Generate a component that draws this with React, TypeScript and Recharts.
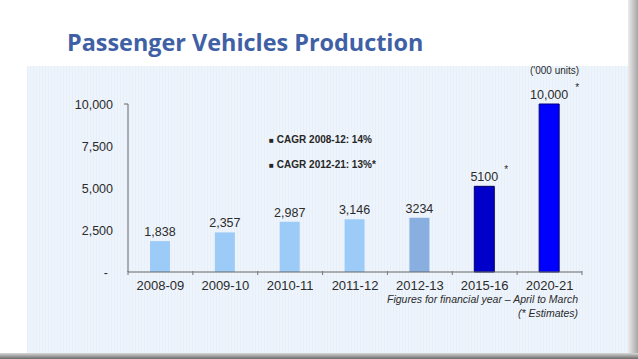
import { BarChart, Bar, XAxis, YAxis, Cell, LabelList } from 'recharts';

const years = ['2008-09', '2009-10', '2010-11', '2011-12', '2012-13', '2015-16', '2020-21'];
const production = [1838, 2357, 2987, 3146, 3234, 5100, 10000];
const valueLabels = ['1,838', '2,357', '2,987', '3,146', '3234', '5100', '10,000'];
const isEstimate = [false, false, false, false, false, true, true];
const yTicks = [0, 2500, 5000, 7500, 10000];
const cagrNotes = ['CAGR 2008-12: 14%', 'CAGR 2012-21: 13%*'];

const BAR_FILLS = ['#9ccbf7', '#9ccbf7', '#9ccbf7', '#9ccbf7', '#88afe0', '#0000c8', '#0000ff'];
const BAR_STROKES = ['none', 'none', 'none', 'none', 'none', '#000060', '#00007a'];

const FONT = '"Liberation Sans", Arial, sans-serif';
const TEXT = '#2b2b2b';

const chartData = years.map((y, i) => ({
  year: y,
  value: production[i],
  label: valueLabels[i],
  est: isEstimate[i],
}));

const fmtY = (v: number) => (v === 0 ? '-' : v.toLocaleString('en-US'));

// x comes in at the label anchor (axis - tickSize - tickMargin)
const YTick = (props: any) => {
  const { x, y, payload } = props;
  const v = payload.value;
  return (
    <g>
      {v === 10000 && <line x1={x + 16} x2={x + 20} y1={y} y2={y} stroke="#666" />}
      <text x={v === 0 ? x : x + 5} y={y} dy={4.5} textAnchor="end" fontSize={12.5} fill={TEXT} fontFamily={FONT}>
        {fmtY(v)}
      </text>
    </g>
  );
};

const XTick = (props: any) => {
  const { x, y, payload, index } = props;
  const half = payload.offset ?? 32.4;
  return (
    <g>
      <line x1={x - half} x2={x - half} y1={y - 9} y2={y - 5} stroke="#777" />
      {index === years.length - 1 && <line x1={x + half} x2={x + half} y1={y - 9} y2={y - 5} stroke="#777" />}
      <text x={x} y={y} dy={10} textAnchor="middle" fontSize={13} fill={TEXT} fontFamily={FONT}>
        {payload.value}
      </text>
    </g>
  );
};

const ValueLabel = (props: any) => {
  const { x, y, width, index } = props;
  const d = chartData[index];
  const cx = x + width / 2;
  return (
    <g>
      <text x={cx} y={y - 5} textAnchor="middle" fontSize={12.5} fill={TEXT} fontFamily={FONT}>
        {d.label}
      </text>
      {d.est && (
        <text x={cx + (d.value >= 10000 ? 26 : 20)} y={y - 13} fontSize={10} fill={TEXT} fontFamily={FONT}>
          *
        </text>
      )}
    </g>
  );
};

export default function App() {
  return (
    <div style={{ position: 'absolute', left: 0, top: 0, width: 638, height: 359, background: '#fff', overflow: 'hidden', fontFamily: FONT }}>
      {/* slide panel */}
      <div style={{
        position: 'absolute', left: 27, top: 66, width: 601, height: 287,
        background: '#eef4fb',
        backgroundImage: 'linear-gradient(90deg, rgba(205,218,236,0.18) 1px, transparent 1px)',
        backgroundSize: '3px 3px',
      }} />
      {/* right + bottom edges of the slide photo */}
      <div style={{ position: 'absolute', left: 628, top: 0, width: 10, height: 359, background: 'linear-gradient(90deg, #ececec, #a5a5a5)' }} />
      <div style={{ position: 'absolute', left: 0, top: 353, width: 638, height: 6, background: 'linear-gradient(180deg, #d8d8d8, #6a6a6a)' }} />

      <div style={{ position: 'absolute', left: 67, top: 25, fontSize: 23.4, fontWeight: 700, color: '#4060a6', fontFamily: '"Open Sans", sans-serif', whiteSpace: 'nowrap', lineHeight: '34px' }}>
        Passenger Vehicles Production
      </div>

      <div style={{ position: 'absolute', left: 0, top: 0 }}>
        <BarChart width={638} height={359} data={chartData} margin={{ top: 104, right: 56, bottom: 57, left: 68 }}>
          <YAxis
            width={60}
            domain={[0, 10000]}
            ticks={yTicks}
            interval={0}
            tick={<YTick />}
            tickLine={false}
            tickMargin={14}
            axisLine={{ stroke: '#666' }}
          />
          <XAxis
            dataKey="year"
            height={30}
            tick={<XTick />}
            tickLine={false}
            interval={0}
            axisLine={{ stroke: '#666' }}
          />
          <Bar dataKey="value" barSize={20} isAnimationActive={false}>
            {chartData.map((d, i) => (
              <Cell key={d.year} fill={BAR_FILLS[i]} stroke={BAR_STROKES[i]} strokeWidth={1} />
            ))}
            <LabelList dataKey="value" content={<ValueLabel />} />
          </Bar>
        </BarChart>
      </div>

      {cagrNotes.map((t, i) => (
        <div key={t} style={{ position: 'absolute', left: 269, top: 133 + i * 25, fontSize: 10, fontWeight: 700, color: '#262626', whiteSpace: 'nowrap', lineHeight: '14px' }}>
          <span style={{ fontSize: 8, marginRight: 3 }}>■</span>{t}
        </div>
      ))}

      <div style={{ position: 'absolute', left: 530, top: 65, fontSize: 10, color: TEXT, whiteSpace: 'nowrap', lineHeight: '12px' }}>
        ('000 units)
      </div>

      <div style={{ position: 'absolute', right: 638 - 578, top: 293, fontSize: 10.5, fontStyle: 'italic', color: TEXT, textAlign: 'right', lineHeight: '13.5px', whiteSpace: 'nowrap' }}>
        Figures for financial year – April to March<br />(* Estimates)
      </div>
    </div>
  );
}
